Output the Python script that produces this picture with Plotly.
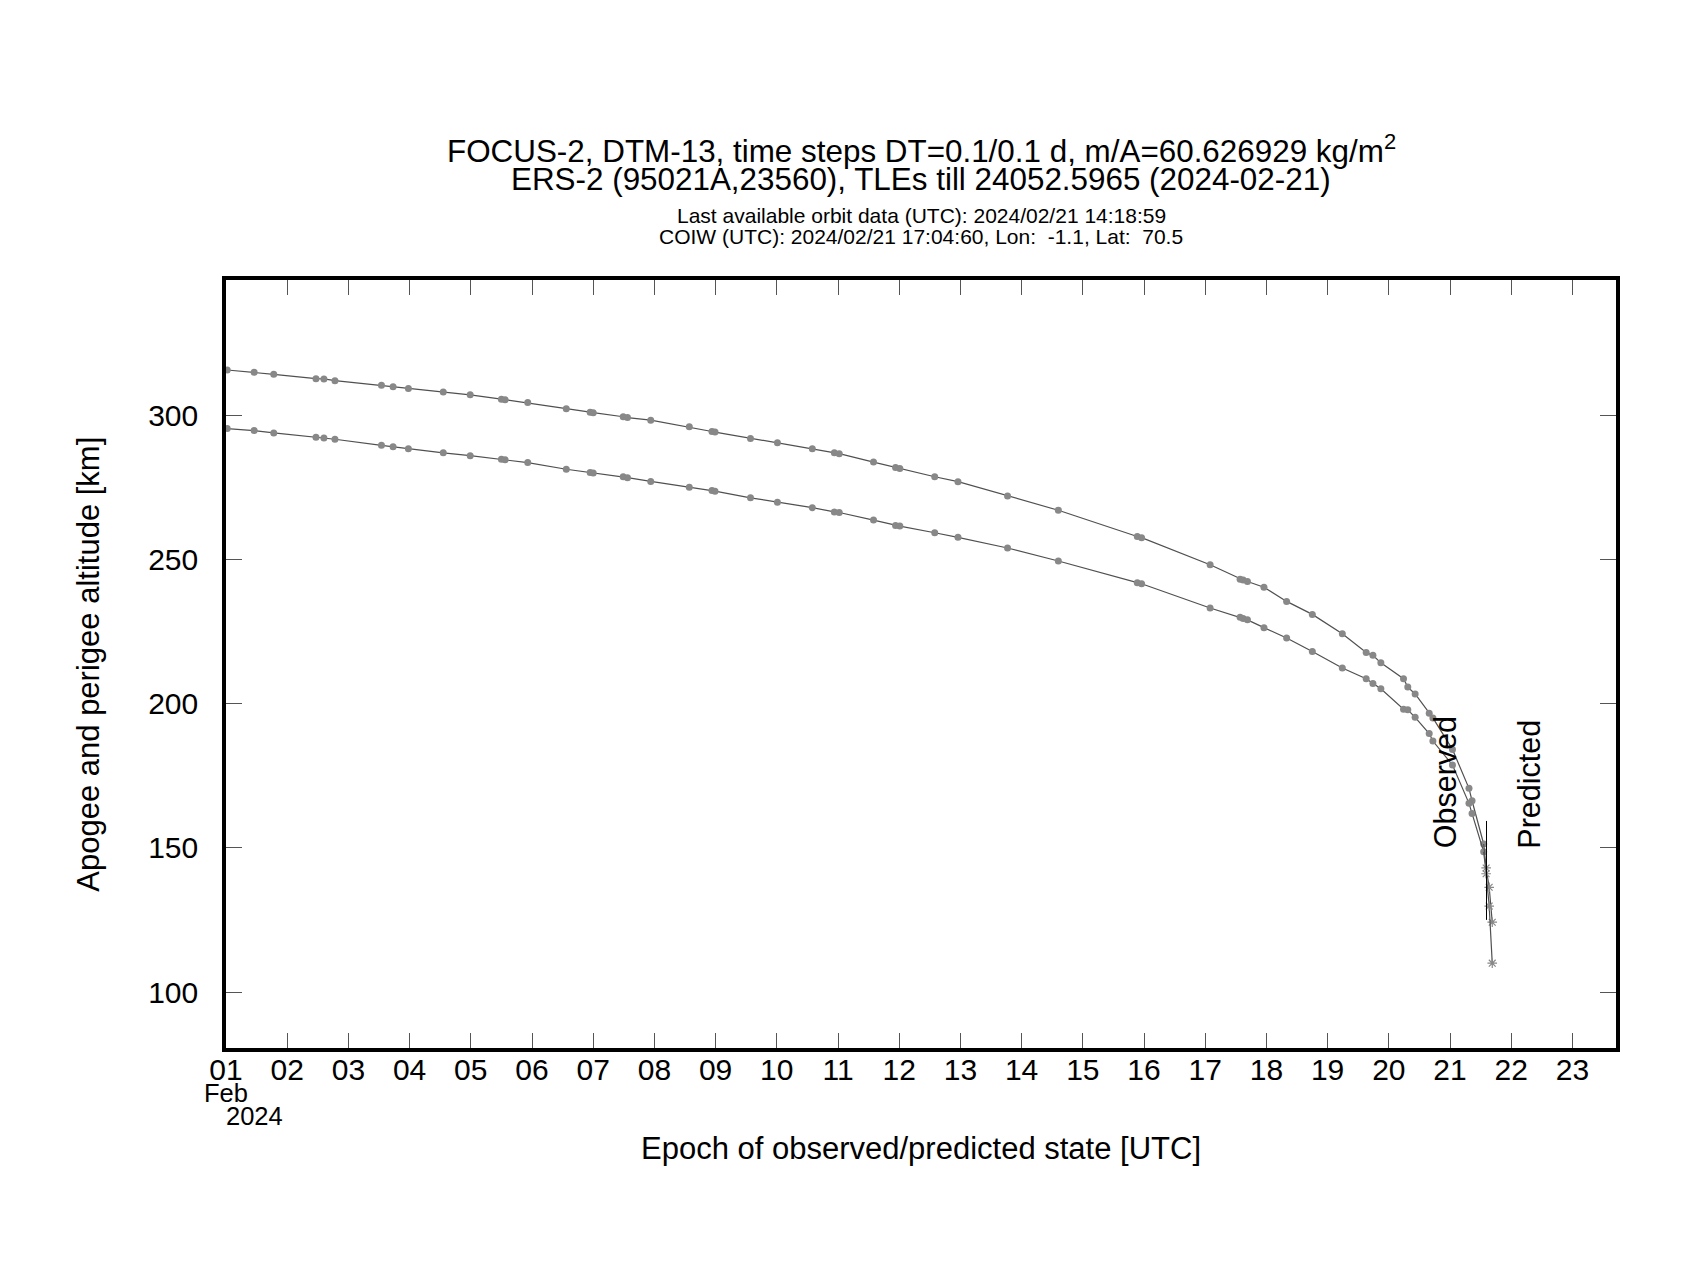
import pandas as pd
import plotly.graph_objects as go

# ---------------- data ----------------
# epochs in days after 2024-02-01 00:00 UTC
obs_day = [0.02, 0.46, 0.78, 1.47, 1.60, 1.78, 2.54, 2.73, 2.98, 3.55, 3.99, 4.50, 4.56,
           4.93, 5.56, 5.95, 6.00, 6.49, 6.56, 6.94, 7.57, 7.94, 7.99, 8.57, 9.01, 9.58,
           9.94, 10.02, 10.58, 10.94, 11.01, 11.58, 11.96, 12.77, 13.60, 14.89, 14.96,
           16.08, 16.57, 16.62, 16.69, 16.96, 17.33, 17.75, 18.24, 18.63, 18.74, 18.87,
           19.24, 19.31, 19.43, 19.66, 19.72, 20.04, 20.31, 20.36, 20.55]
obs_apogee = [315.6, 314.8, 314.1, 312.6, 312.5, 311.9, 310.3, 309.8, 309.2, 308.0, 307.0,
              305.5, 305.3, 304.3, 302.2, 301.0, 300.8, 299.4, 299.1, 298.2, 295.9, 294.3,
              294.1, 291.9, 290.4, 288.3, 286.9, 286.6, 283.7, 281.8, 281.5, 278.6, 276.9,
              271.9, 267.0, 257.9, 257.5, 248.1, 243.1, 242.8, 242.3, 240.3, 235.4, 230.9,
              224.2, 217.7, 216.7, 214.1, 208.6, 205.7, 203.3, 196.6, 195.0, 184.1, 170.6,
              166.3, 151.3]
obs_perigee = [295.3, 294.6, 293.8, 292.3, 292.0, 291.6, 289.5, 289.0, 288.3, 286.9, 285.9,
               284.7, 284.5, 283.5, 281.2, 280.1, 279.9, 278.6, 278.3, 277.0, 275.0, 273.8,
               273.6, 271.3, 269.8, 267.9, 266.4, 266.2, 263.6, 261.7, 261.5, 259.2, 257.6,
               253.9, 249.4, 241.9, 241.5, 233.1, 229.9, 229.5, 229.0, 226.3, 222.7, 218.0,
               212.3, 208.6, 206.9, 205.1, 198.0, 197.8, 195.2, 189.6, 187.0, 178.7, 165.4,
               161.9, 148.6]

pred_day = [20.59, 20.64, 20.69]
pred_apogee = [143.0, 136.3, 124.2]
pred_perigee = [141.0, 129.8, 110.0]

last_obs_day = 20.596          # 2024/02/21 14:18:59
last_obs_span = [125.0, 159.3]  # vertical marker extent [km]
label_alt = 149.0

day_ticks = list(range(0, 23))
day_labels = ["%02d" % (d + 1) for d in day_ticks]
y_ticks = [100, 150, 200, 250, 300]
x_range_days = [0.0, 22.712]
y_range = [80.6, 346.8]

title1 = "FOCUS-2, DTM-13, time steps DT=0.1/0.1 d, m/A=60.626929 kg/m<sup>2</sup>"
title2 = "ERS-2 (95021A,23560), TLEs till 24052.5965 (2024-02-21)"
sub1 = "Last available orbit data (UTC): 2024/02/21 14:18:59"
sub2 = "COIW (UTC): 2024/02/21 17:04:60, Lon:  -1.1, Lat:  70.5"

# ---------------- helpers ----------------
base = pd.Timestamp("2024-02-01 00:00:00")


def to_dt(days):
    return [base + pd.to_timedelta(d, unit="D") for d in days]


FONT = "Liberation Sans, Arial, Helvetica, sans-serif"
LINE_C = "#505050"
MARK_C = "#888888"

fig = go.Figure()

for vals in (obs_apogee, obs_perigee):
    fig.add_trace(go.Scatter(
        x=to_dt(obs_day), y=vals, mode="lines+markers",
        line=dict(color=LINE_C, width=1.2),
        marker=dict(symbol="circle", size=7, color=MARK_C),
        cliponaxis=False,
        showlegend=False, hoverinfo="skip"))

for ovals, pvals in ((obs_apogee, pred_apogee), (obs_perigee, pred_perigee)):
    fig.add_trace(go.Scatter(
        x=to_dt([obs_day[-1], pred_day[0]]), y=[ovals[-1], pvals[0]], mode="lines",
        line=dict(color=LINE_C, width=1.2), showlegend=False, hoverinfo="skip"))
    fig.add_trace(go.Scatter(
        x=to_dt(pred_day), y=pvals, mode="lines+markers",
        line=dict(color=LINE_C, width=1.2),
        marker=dict(symbol="asterisk-open", size=8, color=MARK_C,
                    line=dict(color=MARK_C, width=1.2)),
        showlegend=False, hoverinfo="skip"))

fig.add_trace(go.Scatter(
    x=to_dt([last_obs_day, last_obs_day]), y=last_obs_span, mode="lines",
    line=dict(color="black", width=1), showlegend=False, hoverinfo="skip"))

ann = []
ann.append(dict(x=to_dt([last_obs_day])[0], y=label_alt, xref="x", yref="y",
                text="Observed", textangle=-90, showarrow=False, xshift=-42,
                xanchor="center", yanchor="bottom",
                font=dict(size=30.5, color="black", family=FONT)))
ann.append(dict(x=to_dt([last_obs_day])[0], y=label_alt, xref="x", yref="y",
                text="Predicted", textangle=-90, showarrow=False, xshift=43,
                xanchor="center", yanchor="bottom",
                font=dict(size=30.5, color="black", family=FONT)))

# titles (paper coords; plot area spans 768 px vertically)
for txt, yy, sz in ((title1, 1.171, 31.4), (title2, 1.1315, 31.4),
                    (sub1, 1.0836, 21), (sub2, 1.0568, 21)):
    ann.append(dict(x=0.5, y=yy, xref="paper", yref="paper", text=txt,
                    showarrow=False, xanchor="center", yanchor="middle",
                    font=dict(size=sz, color="black", family=FONT)))

ann.append(dict(x=-0.0995, y=0.5, xref="paper", yref="paper",
                text="Apogee and perigee altitude [km]", textangle=-90,
                showarrow=False, xanchor="center", yanchor="middle",
                font=dict(size=31, color="black", family=FONT)))
ann.append(dict(x=0.5, y=-0.1315, xref="paper", yref="paper",
                text="Epoch of observed/predicted state [UTC]",
                showarrow=False, xanchor="center", yanchor="middle",
                font=dict(size=31, color="black", family=FONT)))
ann.append(dict(x=0.0, y=-0.0586, xref="paper", yref="paper", text="Feb",
                showarrow=False, xanchor="center", yanchor="middle",
                font=dict(size=25.5, color="black", family=FONT)))
ann.append(dict(x=0.0, y=-0.0880, xref="paper", yref="paper", text="2024",
                showarrow=False, xanchor="left", yanchor="middle", xshift=-2,
                font=dict(size=25.5, color="black", family=FONT)))

fig.update_layout(
    width=1700, height=1275,
    margin=dict(l=226, r=84, t=280, b=227, pad=0),
    paper_bgcolor="white", plot_bgcolor="white",
    font=dict(family=FONT, color="black"),
    annotations=ann,
    xaxis=dict(
        type="date",
        range=to_dt(x_range_days),
        tickmode="array", tickvals=to_dt(day_ticks), ticktext=day_labels,
        ticks="inside", ticklen=15, tickwidth=1, tickcolor="#555555",
        showline=True, linewidth=3.5, linecolor="black", mirror="ticks",
        showgrid=False, zeroline=False,
        tickfont=dict(size=30, color="black", family=FONT),
        ticklabelstandoff=-8),
    yaxis=dict(
        range=y_range, tickmode="array", tickvals=y_ticks,
        ticktext=[str(v) for v in y_ticks],
        ticks="inside", ticklen=16, tickwidth=1, tickcolor="#555555",
        showline=True, linewidth=3.5, linecolor="black", mirror="ticks",
        showgrid=False, zeroline=False,
        tickfont=dict(size=30, color="black", family=FONT),
        ticklabelstandoff=18),
)

fig.write_html("out.html")
